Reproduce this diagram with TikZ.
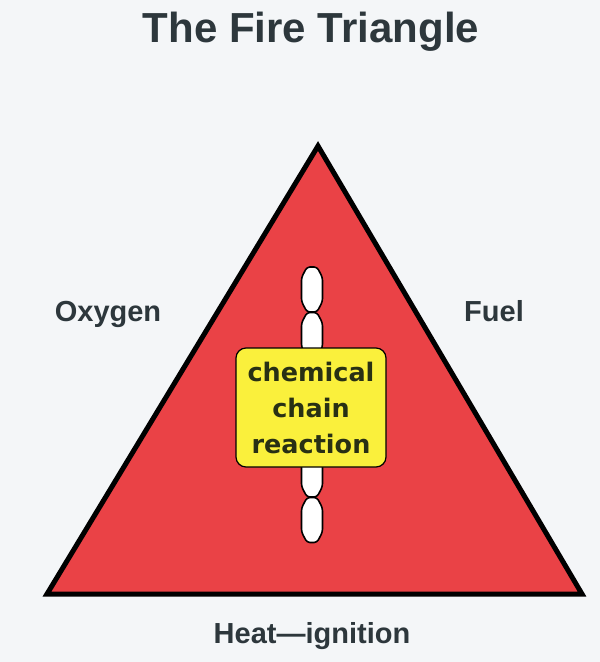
\documentclass[tikz,border=0pt]{standalone}
\usepackage{fontspec}
\setmainfont{Liberation Sans}
\newfontfamily\boxfont{DejaVu Sans}
\definecolor{paper}{RGB}{244,246,248}
\definecolor{ink}{RGB}{45,55,60}
\definecolor{firered}{RGB}{234,66,70}
\definecolor{boxyellow}{RGB}{250,240,60}
\definecolor{boxink}{RGB}{40,48,20}
\tikzset{
  side label/.style={text=ink,font=\fontsize{29}{29}\selectfont\bfseries,anchor=base,inner sep=0pt},
  chain link/.style={draw=black,line width=1.6pt,fill=white,rounded corners=3pt},
}
\begin{document}
\begin{tikzpicture}[x=1pt,y=-1pt]
\useasboundingbox[fill=paper] (0,0) rectangle (600,662);

\node[side label,font=\fontsize{42}{42}\selectfont\bfseries] (title) at (311,42) {The Fire Triangle};

\coordinate (apex) at (318,146);
\coordinate (left) at (47,594);
\coordinate (right) at (582,594);
\draw[line width=5pt,line join=miter,fill=firered] (apex) -- (left) -- (right) -- cycle;

\foreach \y in {289.5,335,474.5,520}
  \draw[chain link,shift={(312,\y)}] (-5,-22.5) -- (5,-22.5) -- (10.5,-12) -- (10.5,12) -- (5,22.5)
    -- (-5,22.5) -- (-10.5,12) -- (-10.5,-12) -- cycle;

\node[draw=black,line width=1.2pt,fill=boxyellow,rounded corners=10pt,minimum width=150pt,minimum height=119pt,
  align=center,text=boxink,font=\boxfont\bfseries\fontsize{25.5}{36}\selectfont] (chainbox) at (311,407.5)
  {chemical\\chain\\reaction};

\node[side label] (oxygen) at (108,321) {Oxygen};
\node[side label] (fuel) at (494,321) {Fuel};
\node[side label] (heat) at (312,643) {Heat—ignition};
\end{tikzpicture}
\end{document}
